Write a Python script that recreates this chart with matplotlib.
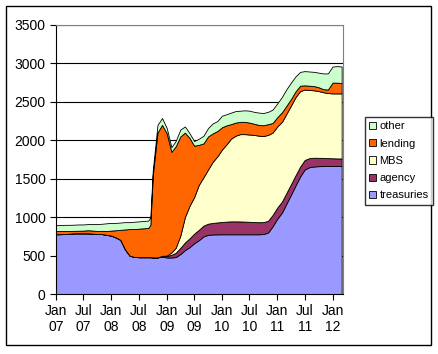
import pandas as pd
import matplotlib
matplotlib.use("Agg")
import matplotlib.pyplot as plt
from matplotlib.patches import Patch, Rectangle

plt.rcParams["font.family"] = ["Liberation Sans", "DejaVu Sans"]

# Monthly points (1st of month), with one extra mid-Sep 2008 point for the jump
dates = list(pd.date_range("2007-01-01", "2012-03-01", freq="MS"))
dates.insert(21, pd.Timestamp("2008-09-15"))

# Values in $ billions
treasuries = [778, 779, 780, 785, 790, 790, 790, 790, 785, 780, 780, 770,
              760, 735, 705, 580, 500, 482, 479, 479, 479, 479, 476, 476, 486,
              475, 475, 480, 520, 570, 610, 660, 700, 750, 770, 775, 776,
              777, 777, 777, 777, 777, 777, 777, 777, 777, 780, 800, 880,
              980, 1060, 1170, 1290, 1410, 1530, 1620, 1650, 1660, 1663, 1665, 1665,
              1665, 1665, 1665]
agency = [0, 0, 0, 0, 0, 0, 0, 0, 0, 0, 0, 0,
          0, 0, 0, 0, 0, 0, 0, 0, 0, 0, 0, 0, 10,
          20, 35, 55, 80, 100, 115, 125, 135, 140, 145, 150, 155,
          160, 165, 168, 168, 167, 165, 162, 160, 157, 155, 152, 148,
          145, 143, 140, 137, 133, 128, 124, 118, 113, 109, 106, 103,
          101, 99, 98]
mbs = [0, 0, 0, 0, 0, 0, 0, 0, 0, 0, 0, 0,
       0, 0, 0, 0, 0, 0, 0, 0, 0, 0, 0, 0, 0,
       5, 30, 65, 160, 330, 425, 475, 585, 630, 705, 795, 859,
       943, 1008, 1075, 1115, 1136, 1138, 1136, 1133, 1126, 1120, 1118, 1072,
       1055, 1037, 1030, 1023, 1017, 982, 916, 887, 877, 868, 854, 847,
       844, 846, 847]
lending = [40, 40, 40, 35, 32, 33, 35, 40, 40, 40, 42, 50,
           65, 95, 130, 260, 345, 363, 371, 376, 381, 421, 1074, 1624, 1704,
           1593, 1310, 1320, 1290, 1100, 880, 670, 520, 440, 430, 370, 330,
           290, 245, 190, 170, 160, 160, 155, 145, 140, 140, 140, 125,
           120, 125, 105, 85, 75, 70, 55, 55, 55, 50, 40, 45,
           140, 140, 135]
other = [77, 79, 80, 80, 80, 82, 80, 80, 85, 90, 92, 100,
         100, 95, 95, 95, 90, 95, 95, 95, 95, 95, 60, 100, 90,
         67, 60, 70, 90, 80, 60, 60, 80, 100, 110, 130, 130,
         150, 145, 150, 150, 145, 150, 155, 155, 160, 160, 160, 175,
         180, 200, 215, 215, 195, 180, 185, 185, 185, 190, 205, 210,
         210, 215, 215]

names = ["treasuries", "agency", "MBS", "lending", "other"]
colors = ["#9999FF", "#993366", "#FFFFCC", "#FF6600", "#CCFFCC"]
tick_dates = pd.date_range("2007-01-01", "2012-01-01", freq="6MS")
tick_labels = [d.strftime("%b\n%y") for d in tick_dates]

fig = plt.figure(figsize=(4.38, 3.54), dpi=100)
fig.patches.append(Rectangle((6 / 438, 1 - 345 / 354), 425 / 438, 339 / 354,
                             transform=fig.transFigure, fill=False,
                             edgecolor="black", linewidth=1))
ax = fig.add_axes([56 / 438, 1 - 294 / 354, 287 / 438, 269 / 354])

ax.stackplot(dates, treasuries, agency, mbs, lending, other,
             colors=colors, edgecolor="black", linewidth=0.6, zorder=2)

ax.set_ylim(0, 3500)
ax.set_yticks(range(0, 3501, 500))
ax.set_xlim(pd.Timestamp("2007-01-01"), pd.Timestamp("2012-03-10"))
ax.set_xticks(tick_dates)
ax.set_xticklabels(tick_labels)
ax.tick_params(labelsize=10, direction="out", length=4, width=0.8, colors="black")
ax.tick_params(axis="x", pad=3)

ax.grid(axis="y", color="black", linewidth=0.8)
ax.set_axisbelow(True)
for side in ["top", "right"]:
    ax.spines[side].set_color("#808080")
for side in ["left", "bottom"]:
    ax.spines[side].set_color("black")

handles = [Patch(facecolor=c, edgecolor="black", linewidth=0.6, label=n)
           for n, c in zip(names, colors)][::-1]
fig.legend(handles=handles, loc="upper left",
           bbox_to_anchor=(365 / 438, 1 - 117 / 354),
           frameon=True, fancybox=False, edgecolor="black",
           fontsize=8, handlelength=0.6, handleheight=0.6,
           handletextpad=0.3, labelspacing=0.65, borderpad=0.4,
           borderaxespad=0)

fig.savefig("out.png", dpi=100)
